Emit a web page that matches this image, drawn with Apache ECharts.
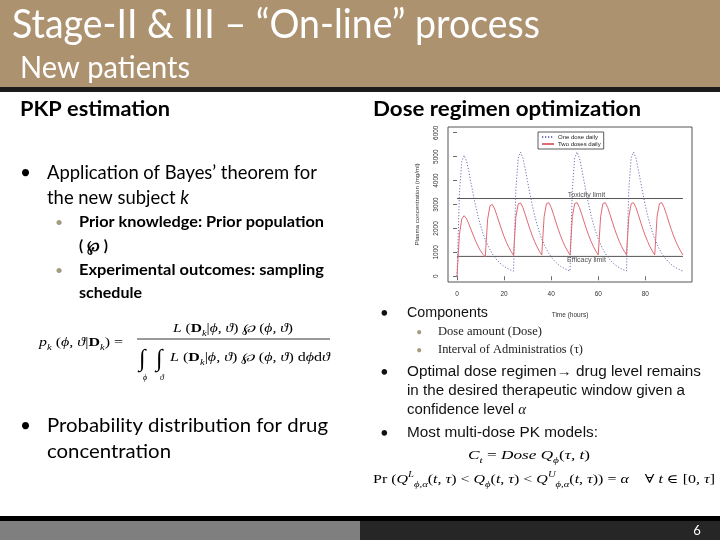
<!DOCTYPE html>
<html><head><meta charset="utf-8">
<script src="https://cdn.jsdelivr.net/npm/echarts@6/dist/echarts.min.js"></script>
<style>html,body{margin:0;padding:0;background:#fff}#c{width:720px;height:540px}</style>
</head><body><div id="c"></div>
<script>
// ---------- chart data ----------
const hours = [0,1,2,3,4,5,6,7,8,9,10,11,12,13,14,15,16,17,18,19,20,21,22,23,
24,25,26,27,28,29,30,31,32,33,34,35,36,37,38,39,40,41,42,43,44,45,46,47,
48,49,50,51,52,53,54,55,56,57,58,59,60,61,62,63,64,65,66,67,68,69,70,71,
72,73,74,75,76,77,78,79,80,81,82,83,84,85,86,87,88,89,90,91,92,93,94,95,96];
const oneDoseDaily = [0,3457,4789,5061,4830,4384,3874,3368,2900,2483,2119,1803,1533,1305,1106,939,796,675,572,485,411,349,295,251,
213,3638,4942,5190,4940,4478,3953,3435,2957,2531,2160,1838,1562,1330,1127,957,811,688,583,494,419,356,301,256,
217,3641,4945,5193,4942,4480,3955,3436,2958,2532,2161,1839,1563,1331,1128,958,812,689,584,495,420,357,302,257,
218,3641,4945,5193,4942,4480,3955,3436,2958,2532,2161,1839,1563,1331,1128,958,812,689,584,495,420,357,302,257,
218];
const twoDosesDaily = [0,1729,2395,2531,2415,2192,1937,1684,1450,1242,1060,920,
810,2382,2948,3001,2813,2530,2223,1927,1656,1417,1208,1028,
874,2473,3025,3066,2868,2577,2263,1961,1685,1441,1229,1046,
889,2486,3036,3075,2876,2584,2269,1966,1689,1445,1232,1049,
891,2488,3038,3077,2878,2585,2270,1967,1690,1446,1233,1050,
892,2488,3038,3077,2878,2585,2270,1967,1690,1446,1233,1050,
892,2488,3038,3077,2878,2585,2270,1967,1690,1446,1233,1050,
892,2488,3038,3077,2878,2585,2270,1967,1690,1446,1233,1050,
892];
const limitSpan = [0, 96];
const toxicityLimit = 3250;
const efficacyLimit = 830;
const limitLabelAt = 55;
const xTicks = [0, 20, 40, 60, 80];
const yTicks = [0, 1000, 2000, 3000, 4000, 5000, 6000];
const seriesNames = ['One dose daily', 'Two doses daily'];

// ---------- helpers ----------
const SERIF = "'Liberation Serif','DejaVu Serif',serif";
const CAL = "Lato,'Open Sans',sans-serif";
const LSANS = "'Liberation Sans','DejaVu Sans',sans-serif";
const mctx = document.createElement('canvas').getContext('2d');
function fstr(s){return (s.fontStyle||'normal')+' '+(s.fontWeight||'normal')+' '+s.fontSize+'px '+s.fontFamily;}
function measureTokens(tokens, styles){let w=0;tokens.forEach(([n,t])=>{mctx.font=fstr(styles[n]);w+=mctx.measureText(t).width;});return w;}
function richText(x, y, tokens, styles, targetW, fill){
  const w = measureTokens(tokens, styles);
  const rich = {};
  Object.keys(styles).forEach(k=>{rich[k]=Object.assign({fill: fill||'#000'}, styles[k]);});
  return {type:'text', x:x, y:y, scaleX: targetW ? targetW/w : 1, silent:true,
    style:{text: tokens.map(([n,t])=>'{'+n+'|'+t+'}').join(''), rich: rich, verticalAlign:'middle', align:'left'}};
}
function plain(x, y, text, size, family, opts){
  opts = opts || {};
  const st = {fontSize:size, fontFamily:family, fontWeight:opts.weight||'normal', fontStyle:'normal'};
  let sx = 1;
  if (opts.w){ mctx.font = fstr(st); sx = opts.w / mctx.measureText(text).width; }
  return {type:'text', x:x, y:y, scaleX:sx, silent:true,
    style:Object.assign({text:text, fill:opts.fill||'#000', verticalAlign:'middle', align:opts.align||'left'}, st)};
}
function bullet(x, y, size, fill){ return {type:'text', x:x, y:y, silent:true, style:{text:'•', fontSize:size, fontFamily:CAL, fill:fill||'#000', verticalAlign:'middle', align:'left'}}; }

// math styles
const M = {
  rm:{fontSize:12, fontFamily:SERIF, lineHeight:18},
  it:{fontSize:12, fontFamily:SERIF, fontStyle:'italic', lineHeight:18},
  bf:{fontSize:12, fontFamily:SERIF, fontWeight:'bold', lineHeight:18},
  sb:{fontSize:8, fontFamily:SERIF, fontStyle:'italic', lineHeight:18, verticalAlign:'bottom'},
  sp:{fontSize:8, fontFamily:SERIF, fontStyle:'italic', lineHeight:18, verticalAlign:'top'}
};

const graphics = [
  // header
  {type:'rect', shape:{x:0,y:0,width:720,height:87}, style:{fill:'#ad9270'}, silent:true},
  {type:'rect', shape:{x:0,y:87,width:720,height:5}, style:{fill:'#1c1c1c'}, silent:true},
  plain(12, 25, 'Stage-II & III – “On-line” process', 40, CAL, {fill:'#fff', w:528}),
  plain(20, 68, 'New patients', 30, CAL, {fill:'#fff', w:170}),
  plain(20, 109, 'PKP estimation', 21, CAL, {weight:'bold', w:150}),
  plain(373, 109, 'Dose regimen optimization', 21, CAL, {weight:'bold', w:268}),
  // left column
  bullet(20, 173, 19),
  plain(47, 173, 'Application of Bayes’ theorem for', 19, CAL, {w:270}),
  richText(47, 198, [['a','the new subject '],['k','k']],
    {a:{fontSize:19,fontFamily:CAL}, k:{fontSize:19,fontFamily:CAL,fontStyle:'italic'}}, 142),
  bullet(55, 222, 14, '#a39d80'),
  plain(79, 222, 'Prior knowledge: Prior population', 15, CAL, {weight:'bold', w:245}),
  plain(79, 246, '( ℘ )', 15, CAL, {weight:'bold', w:29}),
  bullet(55, 270, 14, '#a39d80'),
  plain(79, 270, 'Experimental outcomes: sampling', 15, CAL, {weight:'bold', w:245}),
  plain(79, 293, 'schedule', 15, CAL, {weight:'bold', w:63}),
  // Bayes formula
  richText(39, 343, [['it','p'],['sb','k'],['rm',' ('],['it','ϕ'],['rm',', '],['it','ϑ'],['rm','|'],['bf','D'],['sb','k'],['rm',') =']], M, 84),
  richText(173, 329, [['it','L'],['rm',' ('],['bf','D'],['sb','k'],['rm','|'],['it','ϕ'],['rm',', '],['it','ϑ'],['rm',') '],['it','℘'],['rm',' ('],['it','ϕ'],['rm',', '],['it','ϑ'],['rm',')']], M, 120),
  {type:'line', shape:{x1:137,y1:339,x2:330,y2:339}, style:{stroke:'#000', lineWidth:0.8}, silent:true},
  richText(170, 358, [['it','L'],['rm',' ('],['bf','D'],['sb','k'],['rm','|'],['it','ϕ'],['rm',', '],['it','ϑ'],['rm',') '],['it','℘'],['rm',' ('],['it','ϕ'],['rm',', '],['it','ϑ'],['rm',') d'],['it','ϕ'],['rm','d'],['it','ϑ']], M, 160),
  plain(139, 360, '∫', 24, SERIF, {}),
  plain(156, 360, '∫', 24, SERIF, {}),
  {type:'text', x:143, y:378, silent:true, style:{text:'ϕ', fontSize:8, fontStyle:'italic', fontFamily:SERIF, fill:'#000', verticalAlign:'middle'}},
  {type:'text', x:160, y:378, silent:true, style:{text:'ϑ', fontSize:8, fontStyle:'italic', fontFamily:SERIF, fill:'#000', verticalAlign:'middle'}},
  bullet(20, 426, 19),
  plain(47, 426, 'Probability distribution for drug', 19, CAL, {w:281}),
  plain(47, 452, 'concentration', 19, CAL, {w:124}),
  // right column
  bullet(380, 313, 15, '#111'),
  plain(407, 313, 'Components', 14, LSANS, {fill:'#111', w:81}),
  bullet(416, 332, 11, '#a39d80'),
  plain(438, 332, 'Dose amount (Dose)', 12, SERIF, {fill:'#222', w:104}),
  bullet(416, 350, 11, '#a39d80'),
  plain(438, 350, 'Interval of Administratios (τ)', 12, SERIF, {fill:'#222', w:145}),
  bullet(380, 372, 15, '#111'),
  plain(407, 372, 'Optimal dose regimen→ drug level remains', 14, LSANS, {fill:'#111', w:294}),
  plain(407, 391, 'in the desired therapeutic window given a', 14, LSANS, {fill:'#111', w:278}),
  richText(407, 410, [['a','confidence level '],['g','α']], {a:{fontSize:14,fontFamily:LSANS}, g:{fontSize:14,fontFamily:SERIF,fontStyle:'italic'}}, 119, '#111'),
  bullet(380, 433, 15, '#111'),
  plain(407, 433, 'Most multi-dose PK models:', 14, LSANS, {fill:'#111', w:191}),
  richText(468, 456, [['it','C'],['sb','t'],['rm',' = '],['it','Dose'],['rm',' '],['it','Q'],['sb','ϕ'],['rm','('],['it','τ'],['rm',', '],['it','t'],['rm',')']], M, 122),
  richText(373, 480, [['rm','Pr ('],['it','Q'],['sp','L'],['sb','ϕ,α'],['rm','('],['it','t'],['rm',', '],['it','τ'],['rm',') < '],['it','Q'],['sb','ϕ'],['rm','('],['it','t'],['rm',', '],['it','τ'],['rm',') < '],['it','Q'],['sp','U'],['sb','ϕ,α'],['rm','('],['it','t'],['rm',', '],['it','τ'],['rm',')) = '],['it','α'],['rm','    ∀ '],['it','t'],['rm',' ∈ [0, '],['it','τ'],['rm',']']], M, 342),
  // footer
  {type:'rect', shape:{x:0,y:516,width:720,height:5}, style:{fill:'#000'}, silent:true},
  {type:'rect', shape:{x:0,y:521,width:360,height:19}, style:{fill:'#7f7f7f'}, silent:true},
  {type:'rect', shape:{x:360,y:521,width:360,height:19}, style:{fill:'#262626'}, silent:true},
  plain(697, 531, '6', 13, CAL, {fill:'#fff', align:'center'})
];

const chart = echarts.init(document.getElementById('c'));
const axisText = {fontSize:6.5, color:'#333', fontFamily:LSANS, formatter:(v)=>String(v)};
chart.setOption({
  animation:false,
  backgroundColor:'#fff',
  graphic: graphics,
  grid:{left:448, top:127, width:244, height:155, show:true, borderColor:'#555', borderWidth:1, backgroundColor:'transparent'},
  legend:{
    data: seriesNames, orient:'vertical', left:538, top:132,
    padding:[2,3,2,3], itemGap:1, itemWidth:12, itemHeight:6,
    borderColor:'#333', borderWidth:0.8, backgroundColor:'#fff',
    itemStyle:{opacity:0, borderWidth:0},
    textStyle:{fontSize:6, color:'#222', fontFamily:LSANS, padding:[0,0,0,-1]}
  },
  xAxis:{type:'value', min:-3.84, max:99.84,
    axisLine:{show:false}, splitLine:{show:false},
    axisTick:{show:true, customValues:xTicks, length:4, lineStyle:{color:'#444', width:0.8}},
    axisLabel:{customValues:xTicks, margin:9, ...axisText},
    name:'Time (hours)', nameLocation:'middle', nameGap:30, nameTextStyle:{fontSize:6.5, color:'#333', fontFamily:LSANS}},
  yAxis:{type:'value', min:-240, max:6240,
    axisLine:{show:false}, splitLine:{show:false},
    axisTick:{show:true, customValues:yTicks, length:4, lineStyle:{color:'#444', width:0.8}},
    axisLabel:{customValues:yTicks, rotate:90, margin:8, ...axisText},
    name:'Plasma concentration (mg/ml)', nameLocation:'middle', nameRotate:90, nameGap:28,
    nameTextStyle:{fontSize:6.2, color:'#333', fontFamily:LSANS}},
  series:[
    {name:seriesNames[0], type:'line', symbol:'none', data:hours.map((t,i)=>[t, oneDoseDaily[i]]),
      lineStyle:{color:'#7070b4', width:1, type:[1.2,1.8]}, itemStyle:{color:'#7070b4'}, z:3},
    {name:seriesNames[1], type:'line', symbol:'none', data:hours.map((t,i)=>[t, twoDosesDaily[i]]),
      lineStyle:{color:'#e06a76', width:1}, itemStyle:{color:'#e06a76'}, z:4},
    {name:'Toxicity limit', type:'line', symbol:'none', data:limitSpan.map(t=>[t, toxicityLimit]),
      lineStyle:{color:'#555', width:1}, silent:true, z:2},
    {name:'Efficacy limit', type:'line', symbol:'none', data:limitSpan.map(t=>[t, efficacyLimit]),
      lineStyle:{color:'#555', width:1}, silent:true, z:2},
    {name:'labels', type:'scatter', symbolSize:0, silent:true, z:5,
      data:[{name:'Toxicity limit', value:[limitLabelAt, toxicityLimit], label:{position:'top', distance:0}},
            {name:'Efficacy limit', value:[limitLabelAt, efficacyLimit], label:{position:'bottom', distance:0}}],
      label:{show:true, formatter:'{b}', fontSize:7, color:'#222', fontFamily:LSANS}}
  ]
});
</script></body></html>
